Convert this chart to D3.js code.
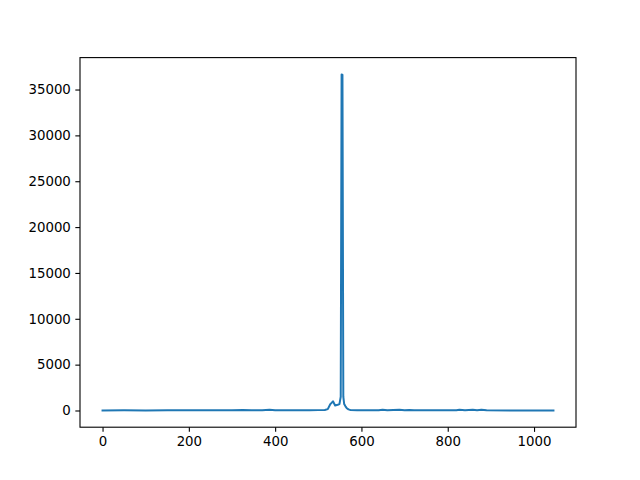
<!DOCTYPE html>
<html>
<head>
<meta charset="utf-8">
<script src="https://cdn.jsdelivr.net/npm/d3@7"></script>
<style>
  html, body { margin: 0; padding: 0; background: #fff; }
  svg { display: block; }
  text { font-family: "DejaVu Sans", sans-serif; font-size: 13.33px; fill: #000; }
</style>
</head>
<body>
<svg id="chart" width="640" height="480"></svg>
<script>
// Data
const xValues = [0, 50, 100, 150, 200, 250, 300, 325, 345, 370, 387, 400, 440, 480, 500, 515, 522, 528, 534, 539, 545, 549, 552, 554, 556, 558, 560, 563, 566, 570, 575, 590, 620, 640, 649, 660, 688, 700, 711, 722, 760, 800, 820, 827, 840, 858, 868, 878, 890, 950, 1000, 1045];
const yValues = [10, 15, 12, 20, 25, 30, 20, 60, 20, 15, 70, 25, 20, 30, 40, 50, 150, 700, 1000, 550, 620, 700, 1500, 36650, 36600, 1500, 700, 450, 250, 120, 40, 20, 15, 30, 80, 20, 70, 20, 60, 20, 15, 20, 25, 80, 20, 70, 20, 80, 15, 10, 10, 10];
const xTicks = [0, 200, 400, 600, 800, 1000];
const yTicks = [0, 5000, 10000, 15000, 20000, 25000, 30000, 35000];

const W = 640, H = 480;
const mLeft = 80, mRight = 576, mTop = 57.6, mBottom = 427.2;
const svg = d3.select("#chart");
svg.append("rect").attr("width", W).attr("height", H).attr("fill", "#fff");

const [xmin, xmax] = d3.extent(xValues);
const [ymin, ymax] = d3.extent(yValues);
const xpad = (xmax - xmin) * 0.05, ypad = (ymax - ymin) * 0.05;
const x = d3.scaleLinear().domain([xmin - xpad, xmax + xpad]).range([mLeft, mRight]);
const y = d3.scaleLinear().domain([ymin - ypad, ymax + ypad]).range([mBottom, mTop]);

const data = xValues.map((v, i) => [v, yValues[i]]);
const line = d3.line().x(d => x(d[0])).y(d => y(d[1]));

svg.append("clipPath").attr("id", "clip")
  .append("rect").attr("x", mLeft).attr("y", mTop).attr("width", mRight - mLeft).attr("height", mBottom - mTop);

svg.append("path")
  .datum(data)
  .attr("d", line)
  .attr("fill", "none")
  .attr("stroke", "#1f77b4")
  .attr("stroke-width", 2)
  .attr("stroke-linejoin", "round")
  .attr("stroke-linecap", "square")
  .attr("clip-path", "url(#clip)");

// Axes (matplotlib style)
const xAxis = d3.axisBottom(x).tickValues(xTicks).tickSize(4.67).tickPadding(4.5).tickFormat(d3.format("d"));
const yAxis = d3.axisLeft(y).tickValues(yTicks).tickSize(4.67).tickPadding(4.5).tickFormat(d3.format("d"));

const gx = svg.append("g").attr("transform", `translate(0,${mBottom})`).call(xAxis);
const gy = svg.append("g").attr("transform", `translate(${mLeft},0)`).call(yAxis);
[gx, gy].forEach(g => {
  g.select(".domain").remove();
  g.selectAll(".tick line").attr("stroke", "#000").attr("stroke-width", 1.1);
  g.selectAll(".tick text").attr("fill", "#000").style("font-family", "'DejaVu Sans', sans-serif").style("font-size", "13.33px");
});

// Frame
svg.append("rect")
  .attr("x", mLeft).attr("y", mTop)
  .attr("width", mRight - mLeft).attr("height", mBottom - mTop)
  .attr("fill", "none").attr("stroke", "#000").attr("stroke-width", 1.1);
</script>
</body>
</html>
